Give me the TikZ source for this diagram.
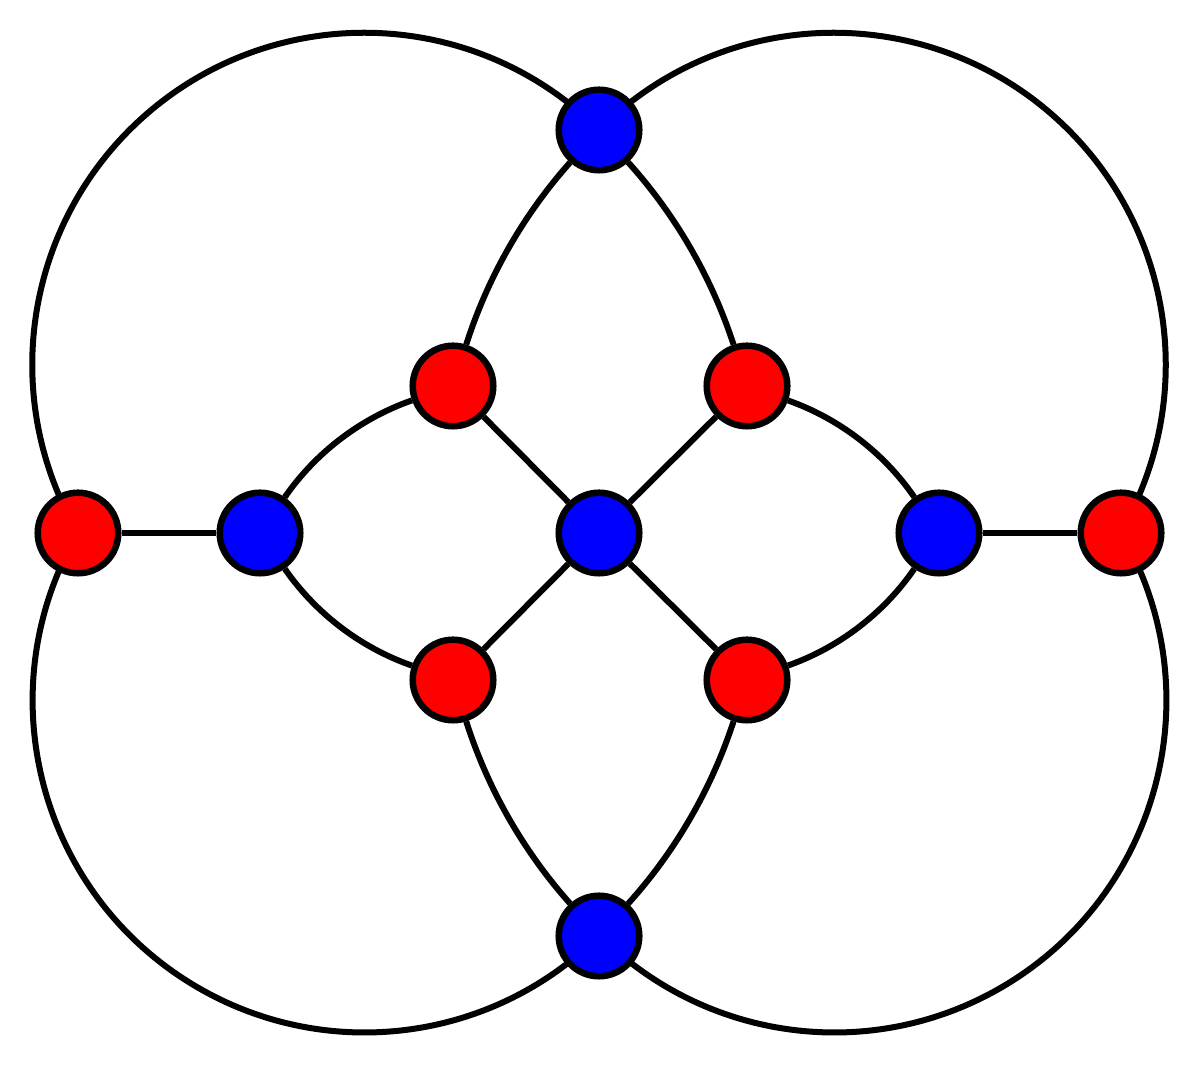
\documentclass[tikz,border=0pt]{standalone}
\usetikzlibrary{backgrounds}
\definecolor{vred}{HTML}{FF0000}
\definecolor{vblue}{HTML}{0000FF}
\begin{document}
\begin{tikzpicture}[x=0.01cm,y=0.01cm,
  vertex/.style={circle,draw=black,line width=0.065cm,minimum size=0.805cm,inner sep=0pt},
  rv/.style={vertex,fill=vred},
  bv/.style={vertex,fill=vblue},
  edge/.style={draw=black,line width=0.06cm}]
\useasboundingbox (0,0) rectangle (1200,1067);
\node[bv] (TB) at (599,937) {};
\node[bv] (BB) at (599,131) {};
\node[bv] (C) at (599,534) {};
\node[bv] (LB) at (260,534) {};
\node[bv] (RB) at (939,534) {};
\node[rv] (LR) at (78,534) {};
\node[rv] (RR) at (1121,534) {};
\node[rv] (UL) at (453,681) {};
\node[rv] (UR) at (747,681) {};
\node[rv] (LL) at (453,387) {};
\node[rv] (LRt) at (747,387) {};
\begin{scope}[on background layer]
\path[edge] (TB.center) arc[start angle=45,end angle=210.3,radius=332];
\path[edge] (LR.center) arc[start angle=149.7,end angle=315,radius=332];
\path[edge] (TB.center) arc[start angle=135,end angle=-30.3,radius=332];
\path[edge] (RR.center) arc[start angle=30.3,end angle=-135,radius=332];
\end{scope}
\path[edge] (TB) to[bend right=12,looseness=0.86] (UL);
\path[edge] (TB) to[bend left=12,looseness=0.86] (UR);
\path[edge] (BB) to[bend left=12,looseness=0.86] (LL);
\path[edge] (BB) to[bend right=12,looseness=0.86] (LRt);
\path[edge] (UL) to[bend right=18,looseness=0.87] (LB);
\path[edge] (LL) to[bend left=18,looseness=0.87] (LB);
\path[edge] (UR) to[bend left=18,looseness=0.87] (RB);
\path[edge] (LRt) to[bend right=18,looseness=0.87] (RB);
\path[edge] (C) -- (UL);
\path[edge] (C) -- (UR);
\path[edge] (C) -- (LL);
\path[edge] (C) -- (LRt);
\path[edge] (LR) -- (LB);
\path[edge] (RB) -- (RR);
\end{tikzpicture}
\end{document}
